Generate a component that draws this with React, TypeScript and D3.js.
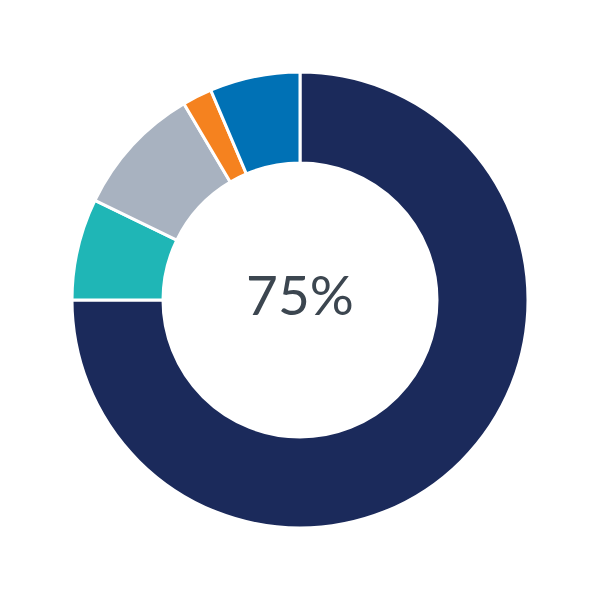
import { useEffect, useRef } from "react";
import * as d3 from "d3";

// ─── Data ─────────────────────────────────────────────────────────────────────

const CATEGORIES = ["Main", "Teal", "Gray", "Orange", "Blue"];
const VALUES = [75, 7.2, 9.3, 2.1, 6.4];
const COLORS = ["#1b2a5b", "#1fb6b6", "#a8b2c0", "#f5821f", "#0071b5"];
const CENTER_LABEL = "75%";

// ─── Component ────────────────────────────────────────────────────────────────

export default function App() {
  const svgRef = useRef<SVGSVGElement>(null);

  useEffect(() => {
    if (!svgRef.current) return;
    const W = 600,
      H = 600;
    const cx = 300,
      cy = 300;
    const outer = 228,
      inner = 137;

    const svg = d3.select(svgRef.current);
    svg.selectAll("*").remove();
    svg.attr("viewBox", `0 0 ${W} ${H}`);

    const g = svg.append("g").attr("transform", `translate(${cx},${cy})`);

    const data = CATEGORIES.map((c, i) => ({ c, v: VALUES[i], col: COLORS[i] }));
    const pie = d3
      .pie<(typeof data)[number]>()
      .value((d) => d.v)
      .sort(null);
    const arc = d3
      .arc<d3.PieArcDatum<(typeof data)[number]>>()
      .innerRadius(inner)
      .outerRadius(outer);

    g.selectAll("path")
      .data(pie(data))
      .enter()
      .append("path")
      .attr("d", arc)
      .attr("fill", (d) => d.data.col)
      .attr("stroke", "#ffffff")
      .attr("stroke-width", 3)
      .attr("stroke-linejoin", "round");

    g.append("text")
      .attr("x", 0)
      .attr("y", 15)
      .attr("text-anchor", "middle")
      .attr("font-family", "Lato, sans-serif")
      .attr("font-size", 55)
      .attr("fill", "#3c4650")
      .text(CENTER_LABEL);
  }, []);

  return (
    <svg
      ref={svgRef}
      width={600}
      height={600}
      style={{ position: "absolute", left: 0, top: 0, display: "block", background: "#fff" }}
    />
  );
}
